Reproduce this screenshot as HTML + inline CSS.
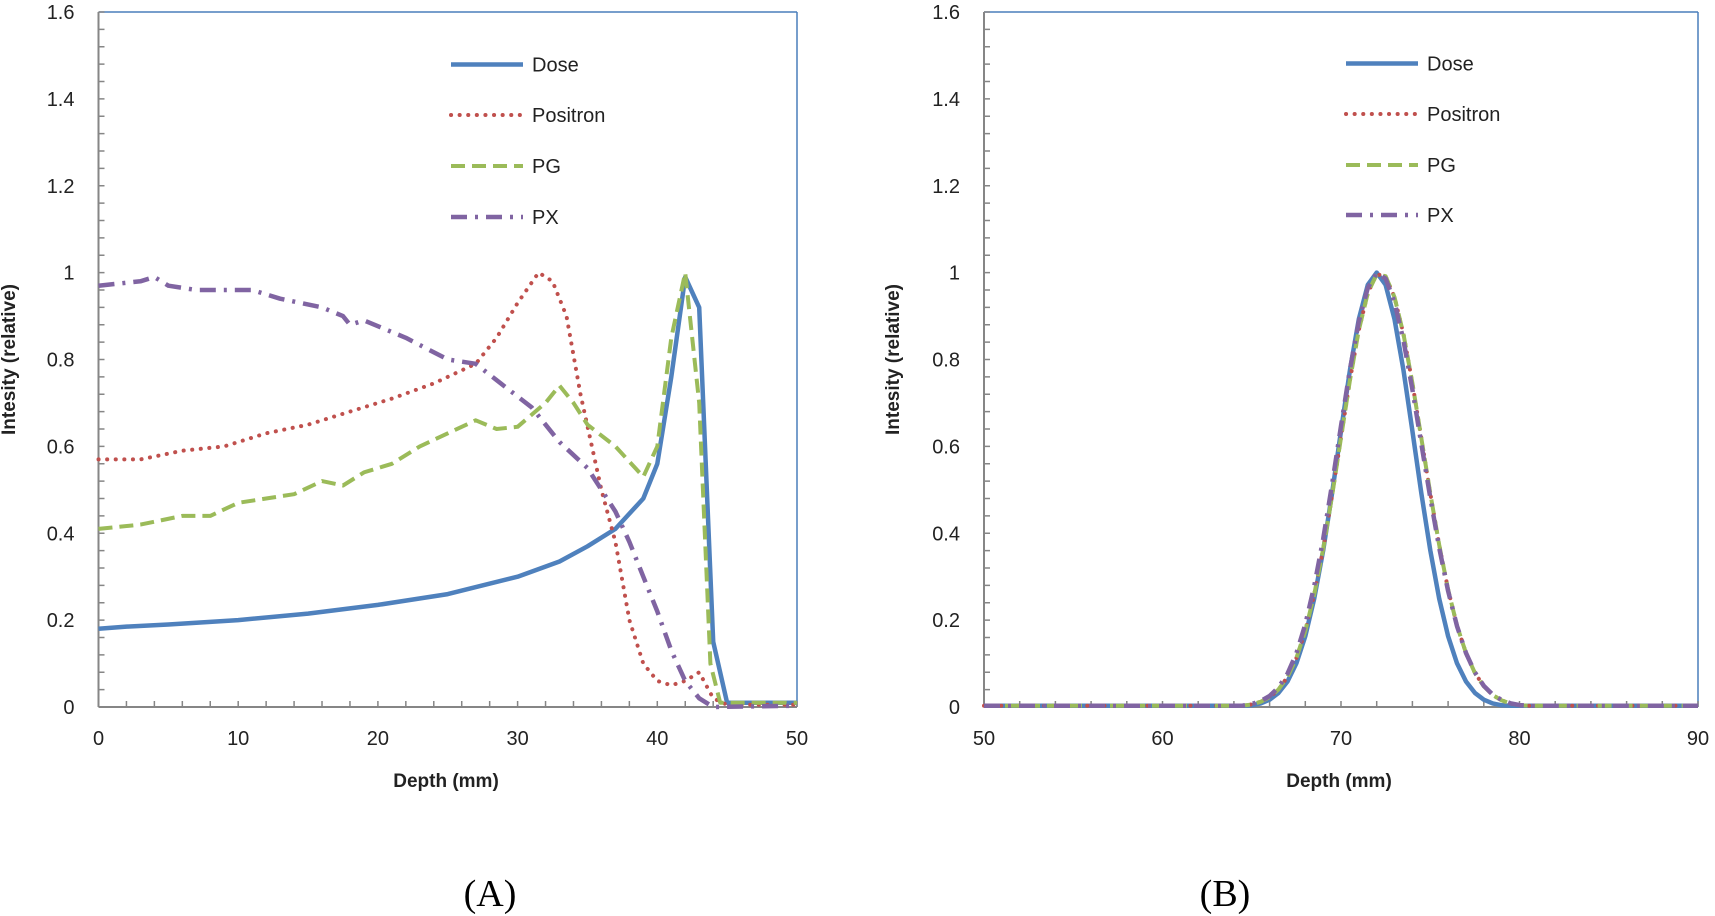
<!DOCTYPE html>
<html><head><meta charset="utf-8"><style>
html,body{margin:0;padding:0;background:#fff;}
svg{display:block;}
text{font-family:"Liberation Sans",sans-serif;}
</style></head><body>
<svg id="s" width="1715" height="916" xmlns="http://www.w3.org/2000/svg"></svg>
<script>
const S=document.getElementById('s');
let h='';
const Y0=707,Y16=12;
function panel(L,R,x0,x1,minorStep,labels,dataSets,legX,legY,titleX,ylabX){
  const fx=x=>L+(x-x0)/(x1-x0)*(R-L), fy=y=>Y0-(y/1.6)*(Y0-Y16);
  h+=`<line x1="${L}" y1="${Y16}" x2="${R}" y2="${Y16}" stroke="#4a7ebb" stroke-width="1.5"/>`;
  h+=`<line x1="${R}" y1="${Y16}" x2="${R}" y2="${Y0}" stroke="#4a7ebb" stroke-width="1.5"/>`;
  h+=`<line x1="${L}" y1="${Y16}" x2="${L}" y2="${Y0}" stroke="#868686" stroke-width="2"/>`;
  h+=`<line x1="${L}" y1="${Y0}" x2="${R}" y2="${Y0}" stroke="#868686" stroke-width="2"/>`;
  for(let i=0;i<=40;i++){const y=fy(i*0.04);h+=`<line x1="${L}" y1="${y}" x2="${L+6}" y2="${y}" stroke="#868686" stroke-width="1.5"/>`;}
  for(let x=x0;x<=x1+0.001;x+=minorStep){const X=fx(x);h+=`<line x1="${X}" y1="${Y0}" x2="${X}" y2="${Y0-6}" stroke="#868686" stroke-width="1.5"/>`;}
  const yl=['0','0.2','0.4','0.6','0.8','1','1.2','1.4','1.6'];
  yl.forEach((t,i)=>{h+=`<text x="${L-24}" y="${fy(i*0.2)+7}" font-size="20" text-anchor="end" fill="#222">${t}</text>`;});
  labels.forEach(v=>{h+=`<text x="${fx(v)}" y="${Y0+38}" font-size="20" text-anchor="middle" fill="#222">${v}</text>`;});
  h+=`<text x="${titleX}" y="${Y0+80}" font-size="19" font-weight="bold" text-anchor="middle" fill="#222">Depth (mm)</text>`;
  h+=`<text transform="translate(${ylabX},${fy(0.8)}) rotate(-90)" font-size="19" font-weight="bold" text-anchor="middle" fill="#222">Intesity (relative)</text>`;
  const st=[
   {c:'#4f81bd',w:4.5,d:''},
   {c:'#c0504d',w:4,d:'0.1 8.5'},
   {c:'#9bbb59',w:4,d:'14 7'},
   {c:'#8064a2',w:4.5,d:'16 8 3 8'}];
  const names=['Dose','Positron','PG','PX'];
  dataSets.forEach((pts,k)=>{
    const p=pts.map((q,i)=>(i?'L':'M')+fx(q[0]).toFixed(1)+','+fy(q[1]).toFixed(1)).join('');
    h+=`<path d="${p}" fill="none" stroke="${st[k].c}" stroke-width="${st[k].w}" stroke-dasharray="${st[k].d}" stroke-linejoin="round" stroke-linecap="${k==1?'round':'butt'}"/>`;
  });
  names.forEach((n,k)=>{const y=legY[k];
    h+=`<line x1="${legX}" y1="${y}" x2="${legX+72}" y2="${y}" stroke="${st[k].c}" stroke-width="${st[k].w}" stroke-dasharray="${st[k].d}" stroke-linecap="${k==1?'round':'butt'}"/>`;
    h+=`<text x="${legX+81}" y="${y+7}" font-size="20" fill="#222">${n}</text>`;});
}
const dose=[[0,0.18],[2,0.185],[5,0.19],[10,0.2],[15,0.215],[20,0.235],[25,0.26],[30,0.3],[33,0.335],[35,0.37],[37,0.41],[39,0.48],[40,0.56],[41,0.76],[42,0.99],[43,0.92],[44,0.15],[45,0.01],[50,0.01]];
const pos=[[0,0.57],[3,0.57],[6,0.59],[9,0.6],[12,0.63],[15,0.65],[18,0.68],[21,0.71],[24,0.745],[27,0.79],[28.5,0.85],[30,0.93],[31.5,1.0],[32.5,0.98],[33.5,0.9],[34.5,0.72],[36,0.5],[37,0.38],[38,0.2],[39,0.1],[40,0.06],[41,0.05],[42,0.06],[43,0.08],[44,0.02],[45,0.005],[50,0.005]];
const pg=[[0,0.41],[3,0.42],[6,0.44],[8,0.44],[10,0.47],[12,0.48],[14,0.49],[16,0.52],[17.5,0.51],[19,0.54],[21,0.56],[23,0.6],[25,0.63],[27,0.66],[28.5,0.64],[30,0.645],[32,0.7],[33,0.74],[34,0.7],[35,0.65],[37,0.6],[39,0.53],[40,0.6],[41,0.85],[42,1.0],[43,0.7],[43.8,0.1],[44.5,0.01],[50,0.01]];
const px=[[0,0.97],[3,0.98],[4,0.99],[5,0.97],[7,0.96],[9,0.96],[11,0.96],[13,0.94],[16,0.92],[17.5,0.9],[18,0.88],[19,0.89],[22,0.85],[25,0.8],[27,0.79],[29,0.74],[31,0.69],[33,0.61],[35,0.55],[37,0.45],[38,0.38],[39,0.3],[40,0.22],[41,0.13],[42,0.06],[43,0.02],[44,0],[50,0.003]];
panel(98.5,797,0,50,2,[0,10,20,30,40,50],[dose,pos,pg,px],451,[64.5,115,166,217],446,15);
function g(c,s,sr){const a=[];for(let x=50;x<=90.001;x+=0.5){const sg=x<c?s:sr;let v=Math.exp(-((x-c)**2)/(2*sg*sg));a.push([x,Math.max(v,0.003)]);}return a;}
panel(984,1698,50,90,2,[50,60,70,80,90],[g(72,2.1,2.1),g(72.2,2.25,2.35),g(72.2,2.25,2.35),g(72.1,2.25,2.4)],1346,[63.5,114,165,215],1339,899);
h+=`<text x="490" y="906" font-size="38" text-anchor="middle" style="font-family:'Liberation Serif',serif">(A)</text>`;
h+=`<text x="1225" y="906" font-size="38" text-anchor="middle" style="font-family:'Liberation Serif',serif">(B)</text>`;
S.innerHTML=h;
</script>
</body></html>
